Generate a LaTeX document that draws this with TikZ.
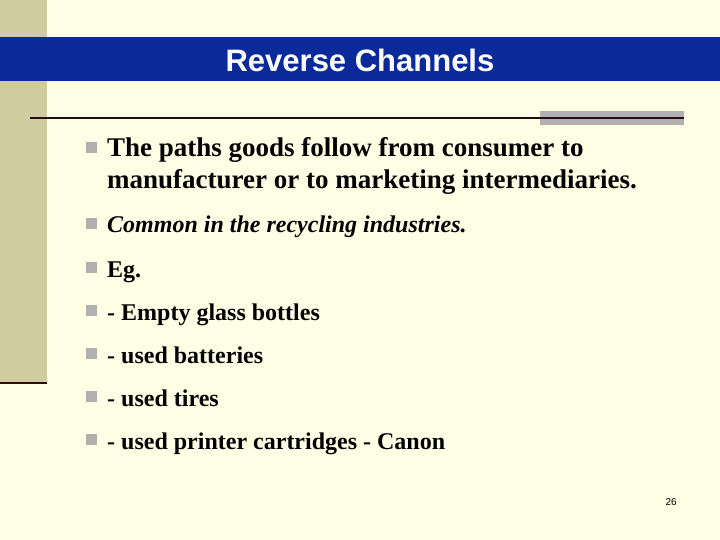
\documentclass[tikz,border=0pt]{standalone}
\usepackage{fontspec}
\setmainfont{Liberation Serif}
\newfontfamily\arial{Liberation Sans}
\definecolor{bg}{HTML}{FFFFE5}
\definecolor{strip}{HTML}{CFCD9F}
\definecolor{bar}{HTML}{0A2A9A}
\definecolor{dk}{HTML}{2A0A1A}
\definecolor{bul}{HTML}{B0B0B0}
\begin{document}
\begin{tikzpicture}[x=1pt,y=-1pt,
  bt/.style={anchor=base west,inner sep=0,font=\fontsize{24}{28}\selectfont\bfseries},
  bsq/.style={fill=bul,draw=none}]
\useasboundingbox (0,0) rectangle (720,540);
\fill[bg] (0,0) rectangle (720,540);
\fill[strip] (0,0) rectangle (47,383);
\draw[dk,line width=2.5pt] (0,383) -- (47,383);
\fill[bar] (0,37) rectangle (720,81);
\node[font=\arial\fontsize{31}{36}\selectfont\bfseries,text=white,anchor=base,xscale=1] (title) at (360,72) {Reverse Channels};
\fill[bul] (540,111) rectangle (684,125);
\draw[dk,line width=1.5pt] (30,118) -- (684,118);
\foreach \y in {157,233,277,320,363,406,449}{\fill[bul] (86,\y-15) rectangle (97,\y-4);}
\node[bt,font=\fontsize{27}{32}\selectfont\bfseries] (l1) at (107,157) {The paths goods follow from consumer to};
\node[bt,font=\fontsize{27}{32}\selectfont\bfseries] (l2) at (107,189) {manufacturer or to marketing intermediaries.};
\node[bt,font=\fontsize{24}{28}\selectfont\bfseries\itshape] (l3) at (107,233) {Common in the recycling industries.};
\node[bt] (l4) at (107,277) {Eg.};
\node[bt] (l5) at (107,320) {- Empty glass bottles};
\node[bt] (l6) at (107,363) {- used batteries};
\node[bt] (l7) at (107,406) {- used tires};
\node[bt] (l8) at (107,449) {- used printer cartridges - Canon};
\node[anchor=base east,inner sep=0,font=\arial\fontsize{10}{12}\selectfont] (pg) at (677,505) {26};
\end{tikzpicture}
\end{document}
